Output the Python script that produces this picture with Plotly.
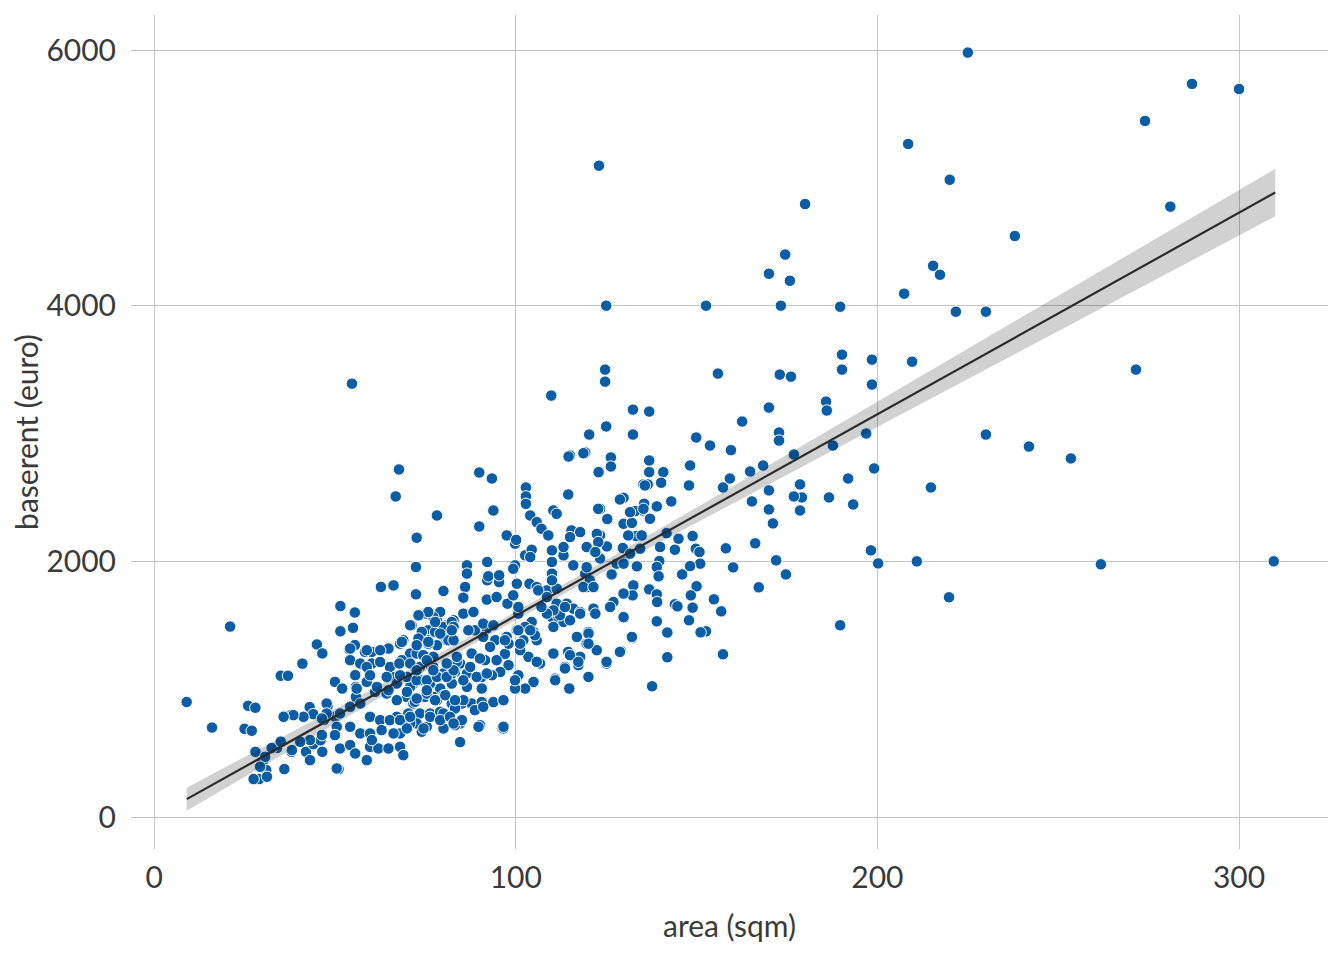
import plotly.graph_objects as go

# ---- data: area (sqm) and baserent (euro) ----
area_sparse = [9, 16, 21, 25, 27, 26, 28, 28, 30, 29, 31, 27.5, 36, 34, 32.5, 35, 36, 38, 35, 37, 41, 45, 46.5, 38, 43, 43, 44, 48, 51, 42, 44, 46, 46.5, 47, 50, 50.5, 50, 52, 51.5, 55.5, 51.5, 55, 54, 54, 55.5, 62.7, 66, 55.6, 55.8, 55.8]
rent_sparse = [900, 700, 1490, 690, 675, 870, 855, 510, 430, 297, 367, 297, 375, 540, 540, 590, 790, 800, 1105, 1105, 1200, 1350, 1280, 510, 440, 860, 805, 870, 375, 510, 570, 600, 510, 760, 785, 705, 1057, 1005, 1650, 1600, 1453, 1480, 1227, 1310, 1345, 1800, 1812, 1110, 1018, 940]

area_upper = [225, 287, 300, 274, 208.5, 123, 220, 281, 180, 238, 174.5, 215.4, 217.3, 170, 175.8, 207.4, 125, 152.6, 173.3, 189.7, 221.7, 230, 124.7, 124.7, 54.7, 109.8, 155.9, 173, 176.1, 190.2, 190.2, 198.5, 198.5, 209.6, 271.5, 185.8, 186, 170, 132.4, 136.9, 125, 132.4, 162.6, 230, 241.9, 253.5, 172.8, 172.8, 120.3, 149.9, 153.7, 159.5, 176.9, 187.7, 196.9, 119.2, 115, 123, 126.3, 126.3, 67.7, 89.9, 93.4, 66.8, 78.2, 102.8, 102.8, 114.5, 164.8, 168.4, 170, 178.6, 179.1, 176.9, 186.6, 193.3, 214.8, 199.1, 191.9, 170, 171.1, 178.6, 165.3, 157.3, 159.2, 166.2, 167.2, 172, 174.7, 160.1, 158.1, 154.8, 156.8, 157.3, 152.6, 151.1, 198.2, 200.2, 210.9, 219.8, 189.7, 261.8, 309.6, 137.7, 114.7, 96.2, 84.6]
rent_upper = [5980, 5735, 5695, 5445, 5265, 5095, 4985, 4775, 4795, 4545, 4400, 4312, 4242, 4250, 4195, 4094, 4000, 4000, 4000, 3992, 3953, 3953, 3500, 3406, 3390, 3297, 3469, 3461, 3445, 3617, 3500, 3578, 3383, 3562, 3500, 3250, 3180, 3203, 3187, 3172, 3055, 2992, 3094, 2992, 2898, 2805, 3008, 2945, 2992, 2969, 2906, 2870, 2836, 2906, 3000, 2852, 2828, 2703, 2813, 2742, 2719, 2695, 2648, 2508, 2359, 2578, 2508, 2523, 2703, 2750, 2555, 2602, 2500, 2508, 2500, 2445, 2578, 2727, 2648, 2406, 2297, 2398, 2469, 2578, 2648, 2141, 1797, 2008, 1898, 1953, 2102, 1703, 1609, 1273, 1453, 1445, 2086, 1984, 2000, 1719, 1500, 1977, 2000, 1023, 1008, 695, 586]

area_mid = [136.9, 136.9, 140.8, 140.2, 135.3, 136.5, 148.2, 147.9, 143, 139, 135.5, 135.1, 133, 129.8, 128.8, 125.3, 123.3, 129.8, 132.1, 137.1, 133.3, 134.8, 131.1, 141.7, 145, 148.9, 144, 139.9, 134.4, 129.6, 149.8, 150.8, 151, 148.2, 146, 139.7, 139, 139.5, 133.5, 130, 127.9, 126.5, 123.3, 125.2, 123.3, 132.5, 132.3, 129.8, 127, 125.9, 136.9, 139, 139.1, 144, 144.7, 150, 148.4, 148.9, 147.9, 139, 129.9, 141.9, 132.2, 129.1, 125, 141.9,
            114.6, 118.7, 122.9, 122.4, 106.7, 117.3, 125.1]
rent_mid = [2789, 2698, 2698, 2615, 2602, 2602, 2750, 2594, 2469, 2430, 2451, 2398, 2393, 2497, 2484, 2331, 2411, 2294, 2301, 2333, 2198, 2203, 2203, 2221, 2177, 2198, 2091, 2112, 2099, 2104, 2099, 2073, 1982, 1963, 1898, 2002, 1956, 1883, 1961, 1995, 1982, 1898, 2023, 2117, 2203, 1812, 1734, 1748, 1682, 1643, 1781, 1742, 1682, 1664, 1648, 1805, 1734, 1638, 1539, 1531, 1560, 1443, 1400, 1297, 1206, 1250,
            2820, 2846, 2698, 1305, 1201, 1188, 1201]

area_core = [72.4, 72.4, 80, 86.5, 86.5, 86, 85.5, 92.1, 92.1, 92.4, 95.4, 95.4, 92, 94.7, 99.8, 99.8, 102.6, 104.4, 100.3, 97.7, 103.8, 110, 113.2, 110, 110, 115.9, 119.2, 119.6, 121.5, 119.6, 105.8, 108.6, 111.3, 111.3, 114.1, 115.9, 109, 110, 111.8, 113.2, 117.8, 121.5, 120.1, 116.9, 119.6, 114.5, 117.8, 110.4, 113.6, 120.1, 110.9, 114.8, 104.9, 102.6, 99.8, 102.1, 103.5, 105.8, 104.9, 104.4, 102.6, 100.3, 100.7, 97.5, 94.3, 92, 97, 94.7, 91.5, 98, 100.7, 99.8, 95.7, 93.4, 90.6, 87.8, 84.6, 83.2, 91, 88.7, 86.9, 85.5, 82.8, 80.9, 78.2, 75.4, 71.2, 68.9, 75.8, 75.8, 73.5, 80.9, 79.5, 78.2, 70.8, 72.6, 68.5, 75.8, 77.2, 73.5, 80, 82.3, 79.1, 86.5, 86.5, 90.6, 71.7, 69.9, 71.7, 74.9, 77.2, 80, 82.3, 85.1, 87.8, 90.6, 93.8, 96.6, 70.3, 73.5, 76.3, 79.1, 72.6, 75.4, 80, 84.6, 90.1, 96.6, 68, 74]
rent_core = [1956, 1742, 1768, 1969, 1904, 1799, 1716, 1995, 1852, 1883, 1838, 1891, 1701, 1721, 1969, 2138, 2047, 2091, 1825, 1669, 1825, 2086, 2047, 1995, 1904, 1969, 1904, 1799, 2086, 2112, 1799, 1773, 1787, 1669, 1669, 1630, 1604, 1564, 1564, 1526, 1604, 1630, 1448, 1409, 1356, 1292, 1253, 1276, 1174, 1096, 1083, 1005, 1057, 1005, 1005, 1383, 1253, 1383, 1448, 1526, 1487, 1461, 1591, 1409, 1383, 1474, 1276, 1227, 1227, 1188, 1109, 1070, 1135, 1109, 1096, 1279, 1201, 1135, 1409, 1461, 1461, 1591, 1539, 1500, 1539, 1591, 1500, 1383, 1461, 1383, 1383, 1383, 1422, 1344, 1279, 1279, 1227, 1201, 1123, 1174, 1123, 1044, 1005, 1123, 1018, 1005, 1044, 940, 888, 940, 940, 951, 888, 888, 888, 899, 899, 914, 810, 810, 810, 823, 732, 706, 693, 732, 719, 693, 654, 667]

area_z2 = [72.6, 93.8, 89.9, 97.5, 100.1, 102.8, 104, 105.8, 107.1, 109, 110.4, 111.3, 115.4, 117.8, 115, 122.8, 122.4, 122.8, 122, 113.2, 104, 99.3, 99.3, 100.7, 110, 119.6, 120.5, 118.7, 121.5, 129.8, 131.6, 131.6, 135.3, 135.7, 129.8, 132.1, 128.8, 125.1, 126.1, 122, 117.8, 115, 120.1, 120.1, 110.4, 115, 117.3, 113.6, 110.9, 105.8, 101.2, 105.3, 104, 100.7, 101.2, 98, 110.4, 112.2, 113.6, 110.4, 108.6, 107.1, 106.2, 108.6, 66.2,
          79.1, 77.2, 75.8, 73.1, 70.8, 74, 77.7, 80, 82.3, 88.3, 91, 93.8,
          68, 65.2, 66.6, 75.8, 75.4, 77.2, 78.6, 76.3, 73.5, 70.8, 81.4, 83.7, 82.3, 85.5, 89.2, 87.4, 92, 90.1, 92.9, 97,
          72.1, 75.4, 78.2, 80, 83.2, 85.5, 88.7, 91, 67.1, 70.8, 74.5, 83.2, 85.1, 89.7, 96.6]
rent_z2 = [2185, 2398, 2273, 2203, 2168, 2450, 2359, 2307, 2255, 2203, 2398, 2372, 2242, 2229, 2190, 2411, 2215, 2151, 2073, 2112, 2034, 1942, 1734, 1643, 1852, 1954, 1852, 1799, 1799, 1982, 2060, 2385, 2411, 2594, 1564, 1409, 1292, 1214, 1643, 1591, 1591, 1539, 1435, 1356, 1279, 1266, 1214, 1162, 1070, 1214, 1305, 1422, 1461, 1461, 1356, 1356, 1487, 1578, 1643, 1617, 1591, 1643, 1773, 1721, 1812,
           1604, 1564, 1604, 1578, 1500, 1448, 1448, 1487, 1526, 1604, 1513, 1500,
           1356, 1174, 1096, 1356, 1253, 1174, 1096, 1044, 1070, 1018, 1383, 1214, 1123, 1070, 1096, 1174, 1123, 1240, 1331, 1383,
           901, 966, 914, 810, 849, 914, 836, 862, 784, 732, 693, 719, 758, 706, 706]

area_low = [56, 58.8, 58.3, 54.2, 54.2, 57, 60.2, 60.2, 62.5, 67.8, 64.8, 68.5, 73.1, 75.8, 77.7, 82.8, 82.8, 74.4, 77.2, 64.3, 67.1, 69.9, 72.6, 75.4, 78.2, 80.9, 82.8, 61.1, 64.3, 67.1, 69.9, 72.6, 75.4, 77.7, 80.5, 83.2, 57, 54.2, 51.4, 59.7, 62.5, 65.2, 68, 70.8, 76.3, 79.1, 81.8, 54.2, 57, 59.7, 62.9, 66.2, 69.9, 82.8, 50, 46.4, 43.1, 40.4, 38.1, 30.7, 29.3, 51.4, 54.2, 59.7, 62, 64.8, 68, 60.2, 43.1, 50.5, 55.6, 58.8, 68.9, 31.2, 47.7, 47.7, 46.4, 41.3, 38.5, 35.8,
            70.8, 72.6, 75.4, 77.2, 80.9, 83.7, 72.6, 79.1, 82.3, 58.8, 62.5, 58.8, 59.7, 61.6, 64.8, 68]
rent_low = [1005, 1057, 1292, 1318, 1227, 1201, 1292, 1201, 1213, 1201, 1318, 1370, 1396, 1370, 1526, 1487, 1383, 1266, 1253, 1096, 1044, 1096, 1070, 1070, 1096, 1096, 1148, 979, 966, 914, 979, 927, 992, 914, 953, 914, 888, 862, 810, 784, 758, 758, 758, 784, 784, 758, 784, 706, 654, 654, 680, 654, 693, 732, 641, 641, 602, 588, 523, 471, 393, 536, 563, 549, 536, 536, 549, 602, 445, 380, 497, 445, 484, 315, 888, 810, 771, 784, 797, 784,
            1201, 1148, 1227, 1148, 1201, 1253, 1344, 1435, 1461, 1305, 1305, 1174, 1109, 1018, 992, 1109]

# regression line and its 95% band
fit_x = [9, 310]
fit_y = [140, 4885]
band_x = [9, 50, 75, 100, 125, 150, 200, 253, 310]
band_lo = [50, 728, 1140, 1542, 1926, 2302, 3053, 3846, 4699]
band_hi = [230, 844, 1220, 1606, 2010, 2422, 3249, 4126, 5071]

x_ticks = [0, 100, 200, 300]
y_ticks = [0, 2000, 4000, 6000]

area = area_sparse + area_upper + area_mid + area_core + area_z2 + area_low
rent = rent_sparse + rent_upper + rent_mid + rent_core + rent_z2 + rent_low

FONT = "Lato"
TXT = "#3a3a3a"
GRID = "#c4c4c4"

fig = go.Figure()
fig.add_trace(go.Scatter(
    x=area, y=rent, mode="markers",
    marker=dict(size=11.5, color="#0b5ea6", line=dict(color="white", width=1)),
    showlegend=False, hoverinfo="skip"))
fig.add_trace(go.Scatter(x=band_x, y=band_lo, mode="lines", line=dict(width=0),
                         showlegend=False, hoverinfo="skip"))
fig.add_trace(go.Scatter(x=band_x, y=band_hi, mode="lines", line=dict(width=0),
                         fill="tonexty", fillcolor="rgba(0,0,0,0.18)",
                         showlegend=False, hoverinfo="skip"))
fig.add_trace(go.Scatter(x=fit_x, y=fit_y, mode="lines", line=dict(color="#2b2b2b", width=2.2),
                         showlegend=False, hoverinfo="skip"))

fig.update_layout(
    width=1344, height=960,
    margin=dict(l=123, r=24, t=7, b=119),
    paper_bgcolor="white", plot_bgcolor="white",
    font=dict(family=FONT, size=30, color=TXT),
)
fig.update_xaxes(
    range=[-6.4, 324.6], tickvals=x_ticks, showgrid=True, gridcolor=GRID, gridwidth=1.3,
    zeroline=False, showline=False, ticks="", ticklabelstandoff=8,
    tickfont=dict(family=FONT, size=30, color=TXT),
    title=dict(text="area (sqm)", font=dict(family=FONT, size=30, color=TXT), standoff=22),
)
fig.update_yaxes(
    range=[-250, 6274], tickvals=y_ticks, showgrid=True, gridcolor=GRID, gridwidth=1.3,
    zeroline=False, showline=False, ticks="", ticklabelstandoff=14,
    tickfont=dict(family=FONT, size=30, color=TXT),
    title=dict(text="baserent (euro)", font=dict(family=FONT, size=30, color=TXT), standoff=10),
)

fig.write_html("out.html")
